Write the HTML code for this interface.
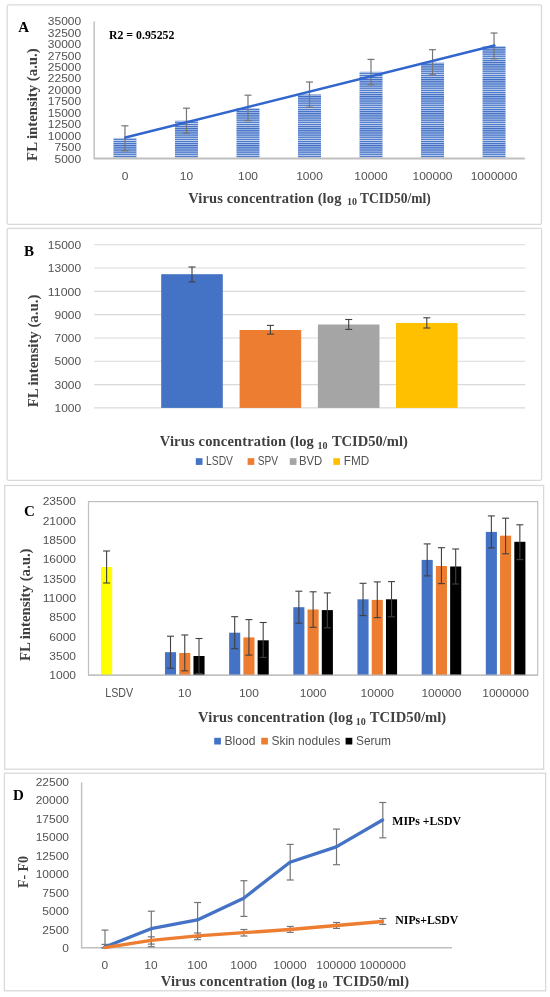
<!DOCTYPE html>
<html lang="en"><head><meta charset="utf-8"><title>Figure: FL intensity vs virus concentration</title>
<style>html,body{margin:0;padding:0;background:#ffffff}svg{display:block}</style></head><body>
<svg width="550" height="997" viewBox="0 0 550 997">
<defs><pattern id="stripe" x="0" y="0.3" width="4" height="2.13" patternUnits="userSpaceOnUse"><rect x="0" y="0" width="4" height="2.13" fill="#c3d2ee"/><rect x="0" y="0" width="4" height="1.2" fill="#3f6fc6"/></pattern></defs>
<rect x="0.00" y="0.00" width="550.00" height="997.00" fill="#ffffff" />
<rect x="7.20" y="4.90" width="534.30" height="219.40" rx="1.5" fill="#ffffff" stroke="#d9d9d9" stroke-width="1.3"/>
<text x="81.20" y="25.19" font-size="11.7" text-anchor="end" font-family="Liberation Sans, sans-serif" fill="#525252" textLength="33.35" lengthAdjust="spacingAndGlyphs">35000</text>
<text x="81.20" y="36.65" font-size="11.7" text-anchor="end" font-family="Liberation Sans, sans-serif" fill="#525252" textLength="33.35" lengthAdjust="spacingAndGlyphs">32500</text>
<text x="81.20" y="48.11" font-size="11.7" text-anchor="end" font-family="Liberation Sans, sans-serif" fill="#525252" textLength="33.35" lengthAdjust="spacingAndGlyphs">30000</text>
<text x="81.20" y="59.56" font-size="11.7" text-anchor="end" font-family="Liberation Sans, sans-serif" fill="#525252" textLength="33.35" lengthAdjust="spacingAndGlyphs">27500</text>
<text x="81.20" y="71.02" font-size="11.7" text-anchor="end" font-family="Liberation Sans, sans-serif" fill="#525252" textLength="33.35" lengthAdjust="spacingAndGlyphs">25000</text>
<text x="81.20" y="82.48" font-size="11.7" text-anchor="end" font-family="Liberation Sans, sans-serif" fill="#525252" textLength="33.35" lengthAdjust="spacingAndGlyphs">22500</text>
<text x="81.20" y="93.94" font-size="11.7" text-anchor="end" font-family="Liberation Sans, sans-serif" fill="#525252" textLength="33.35" lengthAdjust="spacingAndGlyphs">20000</text>
<text x="81.20" y="105.40" font-size="11.7" text-anchor="end" font-family="Liberation Sans, sans-serif" fill="#525252" textLength="33.35" lengthAdjust="spacingAndGlyphs">17500</text>
<text x="81.20" y="116.86" font-size="11.7" text-anchor="end" font-family="Liberation Sans, sans-serif" fill="#525252" textLength="33.35" lengthAdjust="spacingAndGlyphs">15000</text>
<text x="81.20" y="128.31" font-size="11.7" text-anchor="end" font-family="Liberation Sans, sans-serif" fill="#525252" textLength="33.35" lengthAdjust="spacingAndGlyphs">12500</text>
<text x="81.20" y="139.77" font-size="11.7" text-anchor="end" font-family="Liberation Sans, sans-serif" fill="#525252" textLength="33.35" lengthAdjust="spacingAndGlyphs">10000</text>
<text x="81.20" y="151.23" font-size="11.7" text-anchor="end" font-family="Liberation Sans, sans-serif" fill="#525252" textLength="26.68" lengthAdjust="spacingAndGlyphs">7500</text>
<text x="81.20" y="162.69" font-size="11.7" text-anchor="end" font-family="Liberation Sans, sans-serif" fill="#525252" textLength="26.68" lengthAdjust="spacingAndGlyphs">5000</text>
<rect x="113.46" y="138.00" width="23.00" height="20.50" fill="url(#stripe)" />
<rect x="174.97" y="120.70" width="23.00" height="37.80" fill="url(#stripe)" />
<rect x="236.49" y="108.00" width="23.00" height="50.50" fill="url(#stripe)" />
<rect x="298.00" y="94.50" width="23.00" height="64.00" fill="url(#stripe)" />
<rect x="359.51" y="71.80" width="23.00" height="86.70" fill="url(#stripe)" />
<rect x="421.03" y="62.70" width="23.00" height="95.80" fill="url(#stripe)" />
<rect x="482.54" y="46.30" width="23.00" height="112.20" fill="url(#stripe)" />
<line x1="94.20" y1="158.50" x2="524.80" y2="158.50" stroke="#bfbfbf" stroke-width="1.9" />
<line x1="94.20" y1="21.50" x2="94.20" y2="159.30" stroke="#bfbfbf" stroke-width="1.4" />
<line x1="124.96" y1="125.80" x2="124.96" y2="150.70" stroke="#757575" stroke-width="1.2" />
<line x1="121.46" y1="125.80" x2="128.46" y2="125.80" stroke="#757575" stroke-width="1.2" />
<line x1="121.46" y1="150.70" x2="128.46" y2="150.70" stroke="#757575" stroke-width="1.2" />
<text x="124.96" y="180.49" font-size="11.7" text-anchor="middle" font-family="Liberation Sans, sans-serif" fill="#525252" textLength="6.67" lengthAdjust="spacingAndGlyphs">0</text>
<line x1="186.47" y1="108.20" x2="186.47" y2="133.20" stroke="#757575" stroke-width="1.2" />
<line x1="182.97" y1="108.20" x2="189.97" y2="108.20" stroke="#757575" stroke-width="1.2" />
<line x1="182.97" y1="133.20" x2="189.97" y2="133.20" stroke="#757575" stroke-width="1.2" />
<text x="186.47" y="180.49" font-size="11.7" text-anchor="middle" font-family="Liberation Sans, sans-serif" fill="#525252" textLength="13.34" lengthAdjust="spacingAndGlyphs">10</text>
<line x1="247.99" y1="95.20" x2="247.99" y2="120.70" stroke="#757575" stroke-width="1.2" />
<line x1="244.49" y1="95.20" x2="251.49" y2="95.20" stroke="#757575" stroke-width="1.2" />
<line x1="244.49" y1="120.70" x2="251.49" y2="120.70" stroke="#757575" stroke-width="1.2" />
<text x="247.99" y="180.49" font-size="11.7" text-anchor="middle" font-family="Liberation Sans, sans-serif" fill="#525252" textLength="20.01" lengthAdjust="spacingAndGlyphs">100</text>
<line x1="309.50" y1="82.00" x2="309.50" y2="107.20" stroke="#757575" stroke-width="1.2" />
<line x1="306.00" y1="82.00" x2="313.00" y2="82.00" stroke="#757575" stroke-width="1.2" />
<line x1="306.00" y1="107.20" x2="313.00" y2="107.20" stroke="#757575" stroke-width="1.2" />
<text x="309.50" y="180.49" font-size="11.7" text-anchor="middle" font-family="Liberation Sans, sans-serif" fill="#525252" textLength="26.68" lengthAdjust="spacingAndGlyphs">1000</text>
<line x1="371.01" y1="59.40" x2="371.01" y2="84.60" stroke="#757575" stroke-width="1.2" />
<line x1="367.51" y1="59.40" x2="374.51" y2="59.40" stroke="#757575" stroke-width="1.2" />
<line x1="367.51" y1="84.60" x2="374.51" y2="84.60" stroke="#757575" stroke-width="1.2" />
<text x="371.01" y="180.49" font-size="11.7" text-anchor="middle" font-family="Liberation Sans, sans-serif" fill="#525252" textLength="33.35" lengthAdjust="spacingAndGlyphs">10000</text>
<line x1="432.53" y1="49.70" x2="432.53" y2="74.90" stroke="#757575" stroke-width="1.2" />
<line x1="429.03" y1="49.70" x2="436.03" y2="49.70" stroke="#757575" stroke-width="1.2" />
<line x1="429.03" y1="74.90" x2="436.03" y2="74.90" stroke="#757575" stroke-width="1.2" />
<text x="432.53" y="180.49" font-size="11.7" text-anchor="middle" font-family="Liberation Sans, sans-serif" fill="#525252" textLength="40.02" lengthAdjust="spacingAndGlyphs">100000</text>
<line x1="494.04" y1="33.00" x2="494.04" y2="58.80" stroke="#757575" stroke-width="1.2" />
<line x1="490.54" y1="33.00" x2="497.54" y2="33.00" stroke="#757575" stroke-width="1.2" />
<line x1="490.54" y1="58.80" x2="497.54" y2="58.80" stroke="#757575" stroke-width="1.2" />
<text x="494.04" y="180.49" font-size="11.7" text-anchor="middle" font-family="Liberation Sans, sans-serif" fill="#525252" textLength="46.69" lengthAdjust="spacingAndGlyphs">1000000</text>
<line x1="125.36" y1="137.50" x2="494.44" y2="45.50" stroke="#3366cc" stroke-width="2.4" stroke-linecap="round"/>
<text x="18.20" y="32.30" font-size="15" text-anchor="start" font-family="Liberation Serif, serif" font-weight="bold" fill="#000000" >A</text>
<text x="109.00" y="38.70" font-size="11.8" text-anchor="start" font-family="Liberation Serif, serif" font-weight="bold" fill="#000000" >R2 = 0.95252</text>
<text transform="translate(32.10,104.60) rotate(-90)" x="0" y="4.88" font-size="14.8" text-anchor="middle" font-family="Liberation Serif, serif" font-weight="bold" fill="#404040" >FL intensity (a.u.)</text>
<text x="188.20" y="202.60" font-size="14.5" text-anchor="start" font-family="Liberation Serif, serif" font-weight="bold" fill="#404040" textLength="153.2" lengthAdjust="spacing">Virus concentration (log</text>
<text x="347.00" y="205.40" font-size="10" text-anchor="start" font-family="Liberation Serif, serif" font-weight="bold" fill="#404040" >10</text>
<text x="360.10" y="202.60" font-size="14.5" text-anchor="start" font-family="Liberation Serif, serif" font-weight="bold" fill="#404040" textLength="70.6" lengthAdjust="spacingAndGlyphs">TCID50/ml)</text>
<rect x="7.20" y="228.40" width="534.40" height="251.90" rx="1.5" fill="#ffffff" stroke="#d9d9d9" stroke-width="1.3"/>
<line x1="94.20" y1="244.70" x2="525.20" y2="244.70" stroke="#d9d9d9" stroke-width="1.1" />
<text x="81.20" y="248.89" font-size="11.7" text-anchor="end" font-family="Liberation Sans, sans-serif" fill="#525252" textLength="33.35" lengthAdjust="spacingAndGlyphs">15000</text>
<line x1="94.20" y1="268.01" x2="525.20" y2="268.01" stroke="#d9d9d9" stroke-width="1.1" />
<text x="81.20" y="272.20" font-size="11.7" text-anchor="end" font-family="Liberation Sans, sans-serif" fill="#525252" textLength="33.35" lengthAdjust="spacingAndGlyphs">13000</text>
<line x1="94.20" y1="291.33" x2="525.20" y2="291.33" stroke="#d9d9d9" stroke-width="1.1" />
<text x="81.20" y="295.52" font-size="11.7" text-anchor="end" font-family="Liberation Sans, sans-serif" fill="#525252" textLength="33.35" lengthAdjust="spacingAndGlyphs">11000</text>
<line x1="94.20" y1="314.64" x2="525.20" y2="314.64" stroke="#d9d9d9" stroke-width="1.1" />
<text x="81.20" y="318.83" font-size="11.7" text-anchor="end" font-family="Liberation Sans, sans-serif" fill="#525252" textLength="26.68" lengthAdjust="spacingAndGlyphs">9000</text>
<line x1="94.20" y1="337.96" x2="525.20" y2="337.96" stroke="#d9d9d9" stroke-width="1.1" />
<text x="81.20" y="342.15" font-size="11.7" text-anchor="end" font-family="Liberation Sans, sans-serif" fill="#525252" textLength="26.68" lengthAdjust="spacingAndGlyphs">7000</text>
<line x1="94.20" y1="361.27" x2="525.20" y2="361.27" stroke="#d9d9d9" stroke-width="1.1" />
<text x="81.20" y="365.46" font-size="11.7" text-anchor="end" font-family="Liberation Sans, sans-serif" fill="#525252" textLength="26.68" lengthAdjust="spacingAndGlyphs">5000</text>
<line x1="94.20" y1="384.59" x2="525.20" y2="384.59" stroke="#d9d9d9" stroke-width="1.1" />
<text x="81.20" y="388.77" font-size="11.7" text-anchor="end" font-family="Liberation Sans, sans-serif" fill="#525252" textLength="26.68" lengthAdjust="spacingAndGlyphs">3000</text>
<line x1="94.20" y1="407.90" x2="525.20" y2="407.90" stroke="#d9d9d9" stroke-width="1.1" />
<text x="81.20" y="412.09" font-size="11.7" text-anchor="end" font-family="Liberation Sans, sans-serif" fill="#525252" textLength="26.68" lengthAdjust="spacingAndGlyphs">1000</text>
<rect x="161.20" y="274.20" width="61.60" height="133.70" fill="#4472c4" />
<line x1="192.00" y1="267.00" x2="192.00" y2="281.80" stroke="#404040" stroke-width="1.1" />
<line x1="188.50" y1="267.00" x2="195.50" y2="267.00" stroke="#404040" stroke-width="1.1" />
<line x1="188.50" y1="281.80" x2="195.50" y2="281.80" stroke="#404040" stroke-width="1.1" />
<rect x="239.60" y="330.00" width="61.60" height="77.90" fill="#ed7d31" />
<line x1="270.40" y1="325.40" x2="270.40" y2="334.10" stroke="#404040" stroke-width="1.1" />
<line x1="266.90" y1="325.40" x2="273.90" y2="325.40" stroke="#404040" stroke-width="1.1" />
<line x1="266.90" y1="334.10" x2="273.90" y2="334.10" stroke="#404040" stroke-width="1.1" />
<rect x="317.90" y="324.50" width="61.60" height="83.40" fill="#a5a5a5" />
<line x1="348.70" y1="319.50" x2="348.70" y2="329.40" stroke="#404040" stroke-width="1.1" />
<line x1="345.20" y1="319.50" x2="352.20" y2="319.50" stroke="#404040" stroke-width="1.1" />
<line x1="345.20" y1="329.40" x2="352.20" y2="329.40" stroke="#404040" stroke-width="1.1" />
<rect x="396.00" y="323.00" width="61.60" height="84.90" fill="#ffc000" />
<line x1="426.80" y1="317.80" x2="426.80" y2="328.00" stroke="#404040" stroke-width="1.1" />
<line x1="423.30" y1="317.80" x2="430.30" y2="317.80" stroke="#404040" stroke-width="1.1" />
<line x1="423.30" y1="328.00" x2="430.30" y2="328.00" stroke="#404040" stroke-width="1.1" />
<text x="24.00" y="256.40" font-size="15" text-anchor="start" font-family="Liberation Serif, serif" font-weight="bold" fill="#000000" >B</text>
<text transform="translate(33.40,351.00) rotate(-90)" x="0" y="4.88" font-size="14.8" text-anchor="middle" font-family="Liberation Serif, serif" font-weight="bold" fill="#404040" >FL intensity (a.u.)</text>
<text x="159.80" y="446.30" font-size="14.5" text-anchor="start" font-family="Liberation Serif, serif" font-weight="bold" fill="#404040" textLength="154" lengthAdjust="spacing">Virus concentration (log</text>
<text x="317.60" y="449.10" font-size="10" text-anchor="start" font-family="Liberation Serif, serif" font-weight="bold" fill="#404040" >10</text>
<text x="331.90" y="446.30" font-size="14.5" text-anchor="start" font-family="Liberation Serif, serif" font-weight="bold" fill="#404040" textLength="76" lengthAdjust="spacingAndGlyphs">TCID50/ml)</text>
<rect x="195.80" y="458.20" width="6.70" height="6.70" fill="#4472c4" />
<text x="206.00" y="465.40" font-size="12" text-anchor="start" font-family="Liberation Sans, sans-serif" fill="#525252" textLength="27.0" lengthAdjust="spacingAndGlyphs">LSDV</text>
<rect x="247.60" y="458.20" width="6.70" height="6.70" fill="#ed7d31" />
<text x="257.80" y="465.40" font-size="12" text-anchor="start" font-family="Liberation Sans, sans-serif" fill="#525252" textLength="20.3" lengthAdjust="spacingAndGlyphs">SPV</text>
<rect x="289.80" y="458.20" width="6.70" height="6.70" fill="#a5a5a5" />
<text x="299.00" y="465.40" font-size="12" text-anchor="start" font-family="Liberation Sans, sans-serif" fill="#525252" textLength="23.3" lengthAdjust="spacingAndGlyphs">BVD</text>
<rect x="333.30" y="458.20" width="6.70" height="6.70" fill="#ffc000" />
<text x="343.70" y="465.40" font-size="12" text-anchor="start" font-family="Liberation Sans, sans-serif" fill="#525252" textLength="25.5" lengthAdjust="spacingAndGlyphs">FMD</text>
<rect x="4.70" y="485.50" width="538.90" height="283.70" rx="0" fill="#ffffff" stroke="#d9d9d9" stroke-width="1.3"/>
<rect x="88.5" y="501.6" width="449.20" height="173.60" fill="none" stroke="#bfbfbf" stroke-width="1.2"/>
<text x="76.00" y="505.19" font-size="11.7" text-anchor="end" font-family="Liberation Sans, sans-serif" fill="#525252" textLength="33.35" lengthAdjust="spacingAndGlyphs">23500</text>
<text x="76.00" y="524.54" font-size="11.7" text-anchor="end" font-family="Liberation Sans, sans-serif" fill="#525252" textLength="33.35" lengthAdjust="spacingAndGlyphs">21000</text>
<text x="76.00" y="543.90" font-size="11.7" text-anchor="end" font-family="Liberation Sans, sans-serif" fill="#525252" textLength="33.35" lengthAdjust="spacingAndGlyphs">18500</text>
<text x="76.00" y="563.26" font-size="11.7" text-anchor="end" font-family="Liberation Sans, sans-serif" fill="#525252" textLength="33.35" lengthAdjust="spacingAndGlyphs">16000</text>
<text x="76.00" y="582.61" font-size="11.7" text-anchor="end" font-family="Liberation Sans, sans-serif" fill="#525252" textLength="33.35" lengthAdjust="spacingAndGlyphs">13500</text>
<text x="76.00" y="601.97" font-size="11.7" text-anchor="end" font-family="Liberation Sans, sans-serif" fill="#525252" textLength="33.35" lengthAdjust="spacingAndGlyphs">11000</text>
<text x="76.00" y="621.32" font-size="11.7" text-anchor="end" font-family="Liberation Sans, sans-serif" fill="#525252" textLength="26.68" lengthAdjust="spacingAndGlyphs">8500</text>
<text x="76.00" y="640.68" font-size="11.7" text-anchor="end" font-family="Liberation Sans, sans-serif" fill="#525252" textLength="26.68" lengthAdjust="spacingAndGlyphs">6000</text>
<text x="76.00" y="660.03" font-size="11.7" text-anchor="end" font-family="Liberation Sans, sans-serif" fill="#525252" textLength="26.68" lengthAdjust="spacingAndGlyphs">3500</text>
<text x="76.00" y="679.39" font-size="11.7" text-anchor="end" font-family="Liberation Sans, sans-serif" fill="#525252" textLength="26.68" lengthAdjust="spacingAndGlyphs">1000</text>
<rect x="101.00" y="567.00" width="11.20" height="108.20" fill="#ffff00" />
<line x1="106.60" y1="551.00" x2="106.60" y2="583.00" stroke="#404040" stroke-width="1.1" />
<line x1="103.10" y1="551.00" x2="110.10" y2="551.00" stroke="#404040" stroke-width="1.1" />
<line x1="103.10" y1="583.00" x2="110.10" y2="583.00" stroke="#404040" stroke-width="1.1" />
<rect x="164.96" y="652.20" width="11.10" height="23.00" fill="#4472c4" />
<rect x="179.21" y="653.00" width="11.10" height="22.20" fill="#ed7d31" />
<rect x="193.46" y="656.00" width="11.10" height="19.20" fill="#000000" />
<line x1="170.51" y1="636.20" x2="170.51" y2="668.20" stroke="#404040" stroke-width="1.1" />
<line x1="167.01" y1="636.20" x2="174.01" y2="636.20" stroke="#404040" stroke-width="1.1" />
<line x1="167.01" y1="668.20" x2="174.01" y2="668.20" stroke="#404040" stroke-width="1.1" />
<line x1="184.76" y1="635.00" x2="184.76" y2="670.80" stroke="#404040" stroke-width="1.1" />
<line x1="181.26" y1="635.00" x2="188.26" y2="635.00" stroke="#404040" stroke-width="1.1" />
<line x1="181.26" y1="670.80" x2="188.26" y2="670.80" stroke="#404040" stroke-width="1.1" />
<line x1="199.01" y1="638.50" x2="199.01" y2="673.40" stroke="#404040" stroke-width="1.1" />
<line x1="195.51" y1="638.50" x2="202.51" y2="638.50" stroke="#404040" stroke-width="1.1" />
<line x1="195.51" y1="673.40" x2="202.51" y2="673.40" stroke="#404040" stroke-width="1.1" />
<rect x="229.13" y="632.70" width="11.10" height="42.50" fill="#4472c4" />
<rect x="243.38" y="637.40" width="11.10" height="37.80" fill="#ed7d31" />
<rect x="257.63" y="640.30" width="11.10" height="34.90" fill="#000000" />
<line x1="234.68" y1="616.70" x2="234.68" y2="648.70" stroke="#404040" stroke-width="1.1" />
<line x1="231.18" y1="616.70" x2="238.18" y2="616.70" stroke="#404040" stroke-width="1.1" />
<line x1="231.18" y1="648.70" x2="238.18" y2="648.70" stroke="#404040" stroke-width="1.1" />
<line x1="248.93" y1="619.60" x2="248.93" y2="655.10" stroke="#404040" stroke-width="1.1" />
<line x1="245.43" y1="619.60" x2="252.43" y2="619.60" stroke="#404040" stroke-width="1.1" />
<line x1="245.43" y1="655.10" x2="252.43" y2="655.10" stroke="#404040" stroke-width="1.1" />
<line x1="263.18" y1="622.50" x2="263.18" y2="657.40" stroke="#404040" stroke-width="1.1" />
<line x1="259.68" y1="622.50" x2="266.68" y2="622.50" stroke="#404040" stroke-width="1.1" />
<line x1="259.68" y1="657.40" x2="266.68" y2="657.40" stroke="#404040" stroke-width="1.1" />
<rect x="293.30" y="607.20" width="11.10" height="68.00" fill="#4472c4" />
<rect x="307.55" y="609.50" width="11.10" height="65.70" fill="#ed7d31" />
<rect x="321.80" y="610.10" width="11.10" height="65.10" fill="#000000" />
<line x1="298.85" y1="591.20" x2="298.85" y2="623.20" stroke="#404040" stroke-width="1.1" />
<line x1="295.35" y1="591.20" x2="302.35" y2="591.20" stroke="#404040" stroke-width="1.1" />
<line x1="295.35" y1="623.20" x2="302.35" y2="623.20" stroke="#404040" stroke-width="1.1" />
<line x1="313.10" y1="591.80" x2="313.10" y2="627.30" stroke="#404040" stroke-width="1.1" />
<line x1="309.60" y1="591.80" x2="316.60" y2="591.80" stroke="#404040" stroke-width="1.1" />
<line x1="309.60" y1="627.30" x2="316.60" y2="627.30" stroke="#404040" stroke-width="1.1" />
<line x1="327.35" y1="592.90" x2="327.35" y2="627.80" stroke="#404040" stroke-width="1.1" />
<line x1="323.85" y1="592.90" x2="330.85" y2="592.90" stroke="#404040" stroke-width="1.1" />
<line x1="323.85" y1="627.80" x2="330.85" y2="627.80" stroke="#404040" stroke-width="1.1" />
<rect x="357.47" y="599.30" width="11.10" height="75.90" fill="#4472c4" />
<rect x="371.72" y="599.90" width="11.10" height="75.30" fill="#ed7d31" />
<rect x="385.97" y="599.30" width="11.10" height="75.90" fill="#000000" />
<line x1="363.02" y1="583.30" x2="363.02" y2="615.60" stroke="#404040" stroke-width="1.1" />
<line x1="359.52" y1="583.30" x2="366.52" y2="583.30" stroke="#404040" stroke-width="1.1" />
<line x1="359.52" y1="615.60" x2="366.52" y2="615.60" stroke="#404040" stroke-width="1.1" />
<line x1="377.27" y1="581.90" x2="377.27" y2="617.60" stroke="#404040" stroke-width="1.1" />
<line x1="373.77" y1="581.90" x2="380.77" y2="581.90" stroke="#404040" stroke-width="1.1" />
<line x1="373.77" y1="617.60" x2="380.77" y2="617.60" stroke="#404040" stroke-width="1.1" />
<line x1="391.52" y1="581.60" x2="391.52" y2="616.80" stroke="#404040" stroke-width="1.1" />
<line x1="388.02" y1="581.60" x2="395.02" y2="581.60" stroke="#404040" stroke-width="1.1" />
<line x1="388.02" y1="616.80" x2="395.02" y2="616.80" stroke="#404040" stroke-width="1.1" />
<rect x="421.64" y="559.90" width="11.10" height="115.30" fill="#4472c4" />
<rect x="435.89" y="566.00" width="11.10" height="109.20" fill="#ed7d31" />
<rect x="450.14" y="566.50" width="11.10" height="108.70" fill="#000000" />
<line x1="427.19" y1="543.90" x2="427.19" y2="575.90" stroke="#404040" stroke-width="1.1" />
<line x1="423.69" y1="543.90" x2="430.69" y2="543.90" stroke="#404040" stroke-width="1.1" />
<line x1="423.69" y1="575.90" x2="430.69" y2="575.90" stroke="#404040" stroke-width="1.1" />
<line x1="441.44" y1="547.70" x2="441.44" y2="583.60" stroke="#404040" stroke-width="1.1" />
<line x1="437.94" y1="547.70" x2="444.94" y2="547.70" stroke="#404040" stroke-width="1.1" />
<line x1="437.94" y1="583.60" x2="444.94" y2="583.60" stroke="#404040" stroke-width="1.1" />
<line x1="455.69" y1="549.00" x2="455.69" y2="584.00" stroke="#404040" stroke-width="1.1" />
<line x1="452.19" y1="549.00" x2="459.19" y2="549.00" stroke="#404040" stroke-width="1.1" />
<line x1="452.19" y1="584.00" x2="459.19" y2="584.00" stroke="#404040" stroke-width="1.1" />
<rect x="485.81" y="531.90" width="11.10" height="143.30" fill="#4472c4" />
<rect x="500.06" y="535.70" width="11.10" height="139.50" fill="#ed7d31" />
<rect x="514.31" y="541.80" width="11.10" height="133.40" fill="#000000" />
<line x1="491.36" y1="515.90" x2="491.36" y2="547.90" stroke="#404040" stroke-width="1.1" />
<line x1="487.86" y1="515.90" x2="494.86" y2="515.90" stroke="#404040" stroke-width="1.1" />
<line x1="487.86" y1="547.90" x2="494.86" y2="547.90" stroke="#404040" stroke-width="1.1" />
<line x1="505.61" y1="518.20" x2="505.61" y2="553.80" stroke="#404040" stroke-width="1.1" />
<line x1="502.11" y1="518.20" x2="509.11" y2="518.20" stroke="#404040" stroke-width="1.1" />
<line x1="502.11" y1="553.80" x2="509.11" y2="553.80" stroke="#404040" stroke-width="1.1" />
<line x1="519.86" y1="524.80" x2="519.86" y2="559.60" stroke="#404040" stroke-width="1.1" />
<line x1="516.36" y1="524.80" x2="523.36" y2="524.80" stroke="#404040" stroke-width="1.1" />
<line x1="516.36" y1="559.60" x2="523.36" y2="559.60" stroke="#404040" stroke-width="1.1" />
<line x1="88.50" y1="675.20" x2="537.70" y2="675.20" stroke="#bfbfbf" stroke-width="1.2" />
<text x="105.20" y="697.10" font-size="12" text-anchor="start" font-family="Liberation Sans, sans-serif" fill="#525252" textLength="28" lengthAdjust="spacingAndGlyphs">LSDV</text>
<text x="184.76" y="696.99" font-size="11.7" text-anchor="middle" font-family="Liberation Sans, sans-serif" fill="#525252" textLength="13.34" lengthAdjust="spacingAndGlyphs">10</text>
<text x="248.93" y="696.99" font-size="11.7" text-anchor="middle" font-family="Liberation Sans, sans-serif" fill="#525252" textLength="20.01" lengthAdjust="spacingAndGlyphs">100</text>
<text x="313.10" y="696.99" font-size="11.7" text-anchor="middle" font-family="Liberation Sans, sans-serif" fill="#525252" textLength="26.68" lengthAdjust="spacingAndGlyphs">1000</text>
<text x="377.27" y="696.99" font-size="11.7" text-anchor="middle" font-family="Liberation Sans, sans-serif" fill="#525252" textLength="33.35" lengthAdjust="spacingAndGlyphs">10000</text>
<text x="441.44" y="696.99" font-size="11.7" text-anchor="middle" font-family="Liberation Sans, sans-serif" fill="#525252" textLength="40.02" lengthAdjust="spacingAndGlyphs">100000</text>
<text x="505.61" y="696.99" font-size="11.7" text-anchor="middle" font-family="Liberation Sans, sans-serif" fill="#525252" textLength="46.69" lengthAdjust="spacingAndGlyphs">1000000</text>
<text x="24.00" y="516.40" font-size="15" text-anchor="start" font-family="Liberation Serif, serif" font-weight="bold" fill="#000000" >C</text>
<text transform="translate(24.90,604.80) rotate(-90)" x="0" y="4.88" font-size="14.8" text-anchor="middle" font-family="Liberation Serif, serif" font-weight="bold" fill="#404040" >FL intensity (a.u.)</text>
<text x="198.10" y="722.40" font-size="14.5" text-anchor="start" font-family="Liberation Serif, serif" font-weight="bold" fill="#404040" textLength="154.6" lengthAdjust="spacing">Virus concentration (log</text>
<text x="355.80" y="725.20" font-size="10" text-anchor="start" font-family="Liberation Serif, serif" font-weight="bold" fill="#404040" >10</text>
<text x="369.80" y="722.40" font-size="14.5" text-anchor="start" font-family="Liberation Serif, serif" font-weight="bold" fill="#404040" textLength="76.4" lengthAdjust="spacingAndGlyphs">TCID50/ml)</text>
<rect x="214.20" y="737.80" width="6.70" height="6.70" fill="#4472c4" />
<text x="224.40" y="745.20" font-size="12" text-anchor="start" font-family="Liberation Sans, sans-serif" fill="#525252" textLength="31" lengthAdjust="spacingAndGlyphs">Blood</text>
<rect x="261.20" y="737.80" width="6.70" height="6.70" fill="#ed7d31" />
<text x="271.40" y="745.20" font-size="12" text-anchor="start" font-family="Liberation Sans, sans-serif" fill="#525252" textLength="68.8" lengthAdjust="spacingAndGlyphs">Skin nodules</text>
<rect x="345.60" y="737.80" width="6.70" height="6.70" fill="#000000" />
<text x="356.00" y="745.20" font-size="12" text-anchor="start" font-family="Liberation Sans, sans-serif" fill="#525252" textLength="35" lengthAdjust="spacingAndGlyphs">Serum</text>
<rect x="4.40" y="773.20" width="541.20" height="217.60" rx="0" fill="#ffffff" stroke="#d9d9d9" stroke-width="1.3"/>
<text x="69.00" y="785.79" font-size="11.7" text-anchor="end" font-family="Liberation Sans, sans-serif" fill="#525252" textLength="33.35" lengthAdjust="spacingAndGlyphs">22500</text>
<text x="69.00" y="804.26" font-size="11.7" text-anchor="end" font-family="Liberation Sans, sans-serif" fill="#525252" textLength="33.35" lengthAdjust="spacingAndGlyphs">20000</text>
<text x="69.00" y="822.72" font-size="11.7" text-anchor="end" font-family="Liberation Sans, sans-serif" fill="#525252" textLength="33.35" lengthAdjust="spacingAndGlyphs">17500</text>
<text x="69.00" y="841.19" font-size="11.7" text-anchor="end" font-family="Liberation Sans, sans-serif" fill="#525252" textLength="33.35" lengthAdjust="spacingAndGlyphs">15000</text>
<text x="69.00" y="859.66" font-size="11.7" text-anchor="end" font-family="Liberation Sans, sans-serif" fill="#525252" textLength="33.35" lengthAdjust="spacingAndGlyphs">12500</text>
<text x="69.00" y="878.12" font-size="11.7" text-anchor="end" font-family="Liberation Sans, sans-serif" fill="#525252" textLength="33.35" lengthAdjust="spacingAndGlyphs">10000</text>
<text x="69.00" y="896.59" font-size="11.7" text-anchor="end" font-family="Liberation Sans, sans-serif" fill="#525252" textLength="26.68" lengthAdjust="spacingAndGlyphs">7500</text>
<text x="69.00" y="915.06" font-size="11.7" text-anchor="end" font-family="Liberation Sans, sans-serif" fill="#525252" textLength="26.68" lengthAdjust="spacingAndGlyphs">5000</text>
<text x="69.00" y="933.52" font-size="11.7" text-anchor="end" font-family="Liberation Sans, sans-serif" fill="#525252" textLength="26.68" lengthAdjust="spacingAndGlyphs">2500</text>
<text x="69.00" y="951.99" font-size="11.7" text-anchor="end" font-family="Liberation Sans, sans-serif" fill="#525252" textLength="6.67" lengthAdjust="spacingAndGlyphs">0</text>
<line x1="81.60" y1="947.80" x2="452.00" y2="947.80" stroke="#bfbfbf" stroke-width="1.6" />
<line x1="81.60" y1="782.40" x2="81.60" y2="948.60" stroke="#bfbfbf" stroke-width="1.4" />
<line x1="105.00" y1="930.10" x2="105.00" y2="947.80" stroke="#757575" stroke-width="1.2" />
<line x1="101.50" y1="930.10" x2="108.50" y2="930.10" stroke="#757575" stroke-width="1.2" />
<line x1="101.50" y1="947.80" x2="108.50" y2="947.80" stroke="#757575" stroke-width="1.2" />
<line x1="105.00" y1="944.40" x2="105.00" y2="947.80" stroke="#757575" stroke-width="1.2" />
<line x1="101.50" y1="944.40" x2="108.50" y2="944.40" stroke="#757575" stroke-width="1.2" />
<line x1="101.50" y1="947.80" x2="108.50" y2="947.80" stroke="#757575" stroke-width="1.2" />
<line x1="151.30" y1="911.20" x2="151.30" y2="946.70" stroke="#757575" stroke-width="1.2" />
<line x1="147.80" y1="911.20" x2="154.80" y2="911.20" stroke="#757575" stroke-width="1.2" />
<line x1="147.80" y1="946.70" x2="154.80" y2="946.70" stroke="#757575" stroke-width="1.2" />
<line x1="151.30" y1="936.80" x2="151.30" y2="944.10" stroke="#757575" stroke-width="1.2" />
<line x1="147.80" y1="936.80" x2="154.80" y2="936.80" stroke="#757575" stroke-width="1.2" />
<line x1="147.80" y1="944.10" x2="154.80" y2="944.10" stroke="#757575" stroke-width="1.2" />
<line x1="197.60" y1="902.50" x2="197.60" y2="937.50" stroke="#757575" stroke-width="1.2" />
<line x1="194.10" y1="902.50" x2="201.10" y2="902.50" stroke="#757575" stroke-width="1.2" />
<line x1="194.10" y1="937.50" x2="201.10" y2="937.50" stroke="#757575" stroke-width="1.2" />
<line x1="197.60" y1="933.00" x2="197.60" y2="939.70" stroke="#757575" stroke-width="1.2" />
<line x1="194.10" y1="933.00" x2="201.10" y2="933.00" stroke="#757575" stroke-width="1.2" />
<line x1="194.10" y1="939.70" x2="201.10" y2="939.70" stroke="#757575" stroke-width="1.2" />
<line x1="243.90" y1="880.70" x2="243.90" y2="916.40" stroke="#757575" stroke-width="1.2" />
<line x1="240.40" y1="880.70" x2="247.40" y2="880.70" stroke="#757575" stroke-width="1.2" />
<line x1="240.40" y1="916.40" x2="247.40" y2="916.40" stroke="#757575" stroke-width="1.2" />
<line x1="243.90" y1="929.50" x2="243.90" y2="936.00" stroke="#757575" stroke-width="1.2" />
<line x1="240.40" y1="929.50" x2="247.40" y2="929.50" stroke="#757575" stroke-width="1.2" />
<line x1="240.40" y1="936.00" x2="247.40" y2="936.00" stroke="#757575" stroke-width="1.2" />
<line x1="290.20" y1="844.40" x2="290.20" y2="880.00" stroke="#757575" stroke-width="1.2" />
<line x1="286.70" y1="844.40" x2="293.70" y2="844.40" stroke="#757575" stroke-width="1.2" />
<line x1="286.70" y1="880.00" x2="293.70" y2="880.00" stroke="#757575" stroke-width="1.2" />
<line x1="290.20" y1="926.50" x2="290.20" y2="932.40" stroke="#757575" stroke-width="1.2" />
<line x1="286.70" y1="926.50" x2="293.70" y2="926.50" stroke="#757575" stroke-width="1.2" />
<line x1="286.70" y1="932.40" x2="293.70" y2="932.40" stroke="#757575" stroke-width="1.2" />
<line x1="336.50" y1="829.10" x2="336.50" y2="864.70" stroke="#757575" stroke-width="1.2" />
<line x1="333.00" y1="829.10" x2="340.00" y2="829.10" stroke="#757575" stroke-width="1.2" />
<line x1="333.00" y1="864.70" x2="340.00" y2="864.70" stroke="#757575" stroke-width="1.2" />
<line x1="336.50" y1="922.50" x2="336.50" y2="928.40" stroke="#757575" stroke-width="1.2" />
<line x1="333.00" y1="922.50" x2="340.00" y2="922.50" stroke="#757575" stroke-width="1.2" />
<line x1="333.00" y1="928.40" x2="340.00" y2="928.40" stroke="#757575" stroke-width="1.2" />
<line x1="382.80" y1="802.50" x2="382.80" y2="837.80" stroke="#757575" stroke-width="1.2" />
<line x1="379.30" y1="802.50" x2="386.30" y2="802.50" stroke="#757575" stroke-width="1.2" />
<line x1="379.30" y1="837.80" x2="386.30" y2="837.80" stroke="#757575" stroke-width="1.2" />
<line x1="382.80" y1="918.50" x2="382.80" y2="924.40" stroke="#757575" stroke-width="1.2" />
<line x1="379.30" y1="918.50" x2="386.30" y2="918.50" stroke="#757575" stroke-width="1.2" />
<line x1="379.30" y1="924.40" x2="386.30" y2="924.40" stroke="#757575" stroke-width="1.2" />
<polyline points="104.75,947.00 151.05,928.70 197.35,919.90 243.65,898.20 289.95,862.20 336.25,846.90 382.55,820.00" fill="none" stroke="#4472c4" stroke-width="3.3" stroke-linejoin="round" stroke-linecap="round"/>
<polyline points="104.75,947.60 151.05,940.30 197.35,935.90 243.65,932.70 289.95,929.50 336.25,925.50 382.55,921.50" fill="none" stroke="#ed7d31" stroke-width="3.3" stroke-linejoin="round" stroke-linecap="round"/>
<text x="104.75" y="969.49" font-size="11.7" text-anchor="middle" font-family="Liberation Sans, sans-serif" fill="#525252" textLength="6.67" lengthAdjust="spacingAndGlyphs">0</text>
<text x="151.05" y="969.49" font-size="11.7" text-anchor="middle" font-family="Liberation Sans, sans-serif" fill="#525252" textLength="13.34" lengthAdjust="spacingAndGlyphs">10</text>
<text x="197.35" y="969.49" font-size="11.7" text-anchor="middle" font-family="Liberation Sans, sans-serif" fill="#525252" textLength="20.01" lengthAdjust="spacingAndGlyphs">100</text>
<text x="243.65" y="969.49" font-size="11.7" text-anchor="middle" font-family="Liberation Sans, sans-serif" fill="#525252" textLength="26.68" lengthAdjust="spacingAndGlyphs">1000</text>
<text x="289.95" y="969.49" font-size="11.7" text-anchor="middle" font-family="Liberation Sans, sans-serif" fill="#525252" textLength="33.35" lengthAdjust="spacingAndGlyphs">10000</text>
<text x="336.25" y="969.49" font-size="11.7" text-anchor="middle" font-family="Liberation Sans, sans-serif" fill="#525252" textLength="40.02" lengthAdjust="spacingAndGlyphs">100000</text>
<text x="382.55" y="969.49" font-size="11.7" text-anchor="middle" font-family="Liberation Sans, sans-serif" fill="#525252" textLength="46.69" lengthAdjust="spacingAndGlyphs">1000000</text>
<text x="13.00" y="800.30" font-size="15" text-anchor="start" font-family="Liberation Serif, serif" font-weight="bold" fill="#000000" >D</text>
<text transform="translate(23.40,872.00) rotate(-90)" x="0" y="4.95" font-size="15" text-anchor="middle" font-family="Liberation Serif, serif" font-weight="bold" fill="#404040" textLength="32" lengthAdjust="spacingAndGlyphs">F- F0</text>
<text x="160.80" y="985.60" font-size="14.5" text-anchor="start" font-family="Liberation Serif, serif" font-weight="bold" fill="#404040" textLength="154.2" lengthAdjust="spacing">Virus concentration (log</text>
<text x="317.40" y="988.40" font-size="10" text-anchor="start" font-family="Liberation Serif, serif" font-weight="bold" fill="#404040" >10</text>
<text x="333.20" y="985.60" font-size="14.5" text-anchor="start" font-family="Liberation Serif, serif" font-weight="bold" fill="#404040" textLength="75.8" lengthAdjust="spacingAndGlyphs">TCID50/ml)</text>
<text x="392.30" y="824.50" font-size="11.8" text-anchor="start" font-family="Liberation Serif, serif" font-weight="bold" fill="#000000" >MIPs +LSDV</text>
<text x="395.30" y="924.20" font-size="11.8" text-anchor="start" font-family="Liberation Serif, serif" font-weight="bold" fill="#000000" >NIPs+LSDV</text>
</svg></body></html>
